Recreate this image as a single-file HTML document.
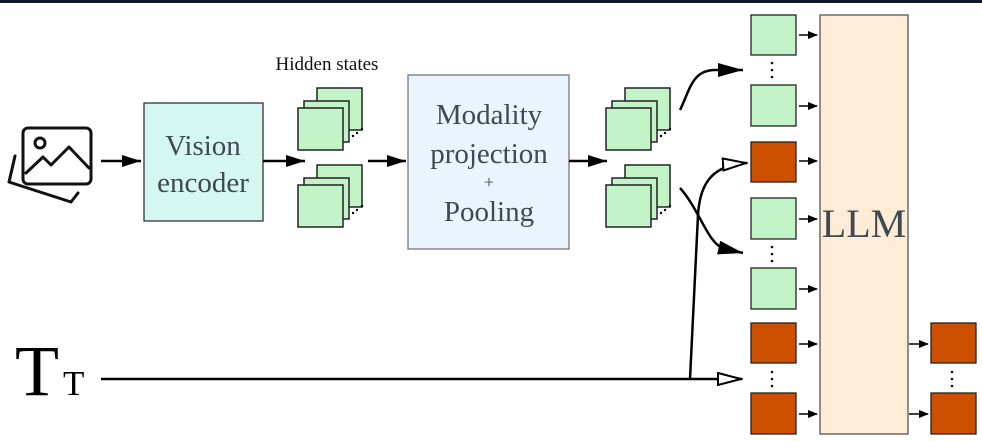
<!DOCTYPE html>
<html><head><meta charset="utf-8"><style>
html,body{margin:0;padding:0;background:#fff;}
svg{display:block;}
</style></head><body>
<svg width="982" height="441" viewBox="0 0 982 441" xmlns="http://www.w3.org/2000/svg" font-family="'Liberation Serif', 'DejaVu Serif', serif">
<defs>
<marker id="a" markerWidth="10" markerHeight="8" refX="9" refY="4" orient="auto" markerUnits="userSpaceOnUse"><path d="M0,0 L10,4 L0,8 Z" fill="#000"/></marker>
<marker id="b" markerWidth="20" markerHeight="12" refX="19" refY="6" orient="auto" markerUnits="userSpaceOnUse"><path d="M0,0 L19,6 L0,12 Z" fill="#000"/></marker>
<marker id="c" markerWidth="26" markerHeight="14" refX="25" refY="7" orient="auto" markerUnits="userSpaceOnUse"><path d="M0,0 L25,7 L0,14 Z" fill="#000"/></marker>
<marker id="h" markerWidth="26" markerHeight="14" refX="25" refY="7" orient="auto" markerUnits="userSpaceOnUse"><path d="M1,1 L24,7 L1,13 Z" fill="#fff" stroke="#000" stroke-width="2"/></marker>
<g id="stk">
<rect x="19" y="0" width="45" height="42" fill="#c2f4c7" stroke="#222" stroke-width="1.5"/>
<rect x="6" y="13" width="45" height="41" fill="#c2f4c7" stroke="#222" stroke-width="1.5"/>
<rect x="0" y="20" width="45" height="42" fill="#c2f4c7" stroke="#222" stroke-width="1.5"/>
<circle cx="55" cy="48" r="1.2" fill="#000"/><circle cx="59" cy="45" r="1.2" fill="#000"/><circle cx="64" cy="41" r="1.2" fill="#000"/>
</g>
</defs>
<rect x="0" y="0" width="982" height="3" fill="#0f1626"/>
<g fill="none" stroke="#111" stroke-width="3" stroke-linecap="round" stroke-linejoin="round">
<rect x="23" y="128" width="68" height="56" rx="5"/>
<circle cx="40" cy="143" r="5"/>
<path d="M26,173 L43,157 L51,165 L69,147 L89,168"/>
<path d="M15,156 L9,182 L71,202 L78,193"/>
</g>
<line x1="101" y1="161" x2="141" y2="161" stroke="#000" stroke-width="2.5" marker-end="url(#b)"/>
<rect x="144" y="103" width="119" height="118" fill="#d5f7f2" stroke="#333" stroke-width="1.3"/>
<text x="203" y="155" font-size="29" fill="#3e4a52" text-anchor="middle" font-family="'Liberation Serif', serif">Vision</text>
<text x="203" y="192" font-size="29" fill="#3e4a52" text-anchor="middle" font-family="'Liberation Serif', serif">encoder</text>
<line x1="263" y1="161" x2="305" y2="161" stroke="#000" stroke-width="2.5" marker-end="url(#b)"/>
<text x="327" y="70" font-size="19" fill="#111" text-anchor="middle" font-family="'Liberation Serif', serif">Hidden states</text>
<use href="#stk" x="298" y="88"/>
<use href="#stk" x="298" y="165"/>
<line x1="368" y1="161" x2="406" y2="161" stroke="#000" stroke-width="2.5" marker-end="url(#b)"/>
<rect x="408" y="75" width="161" height="174" fill="#eaf3fe" stroke="#777" stroke-width="1.3"/>
<text x="489" y="124" font-size="29" fill="#3e4a52" text-anchor="middle" font-family="'Liberation Serif', serif">Modality</text>
<text x="489" y="163" font-size="29" fill="#3e4a52" text-anchor="middle" font-family="'Liberation Serif', serif">projection</text>
<text x="489" y="188" font-size="18" fill="#3e4a52" text-anchor="middle" font-family="'Liberation Serif', serif">+</text>
<text x="489" y="221" font-size="29" fill="#3e4a52" text-anchor="middle" font-family="'Liberation Serif', serif">Pooling</text>
<line x1="569" y1="161" x2="607" y2="161" stroke="#000" stroke-width="2.5" marker-end="url(#b)"/>
<use href="#stk" x="606" y="88"/>
<use href="#stk" x="606" y="165"/>
<path d="M680,110 C690,90 692,70 715,70 L743,70" fill="none" stroke="#000" stroke-width="2.5" marker-end="url(#c)"/>
<path d="M680,188 C700,210 708,245 725,249 L743,253" fill="none" stroke="#000" stroke-width="2.5" marker-end="url(#c)"/>
<path d="M690,379 L698,215 C700,180 715,165 747,163" fill="none" stroke="#000" stroke-width="2.5" marker-end="url(#h)"/>
<line x1="101" y1="379" x2="742" y2="379" stroke="#000" stroke-width="2.5" marker-end="url(#h)"/>
<text x="15" y="395" font-size="72" fill="#000" font-family="'Liberation Serif', serif">T</text>
<text x="63" y="395" font-size="35" fill="#000" font-family="'Liberation Serif', serif">T</text>
<g stroke="#222" stroke-width="1.3">
<rect x="751" y="15" width="45" height="40" fill="#c2f4c7"/>
<rect x="751" y="85" width="45" height="41" fill="#c2f4c7"/>
<rect x="751" y="142" width="45" height="40" fill="#cc5000"/>
<rect x="751" y="198" width="45" height="41" fill="#c2f4c7"/>
<rect x="751" y="268" width="45" height="41" fill="#c2f4c7"/>
<rect x="751" y="323" width="45" height="40" fill="#cc5000"/>
<rect x="751" y="393" width="45" height="41" fill="#cc5000"/>
<rect x="931" y="323" width="45" height="40" fill="#cc5000"/>
<rect x="931" y="393" width="45" height="41" fill="#cc5000"/>
</g>
<g fill="#111">
<circle cx="772" cy="63" r="1.3"/><circle cx="772" cy="70" r="1.3"/><circle cx="772" cy="77" r="1.3"/>
<circle cx="772" cy="247" r="1.3"/><circle cx="772" cy="254" r="1.3"/><circle cx="772" cy="261" r="1.3"/>
<circle cx="772" cy="372" r="1.3"/><circle cx="772" cy="379" r="1.3"/><circle cx="772" cy="386" r="1.3"/>
<circle cx="952" cy="372" r="1.3"/><circle cx="952" cy="379" r="1.3"/><circle cx="952" cy="386" r="1.3"/>
</g>
<g stroke="#000" stroke-width="1.5" marker-end="url(#a)">
<line x1="799" y1="35" x2="817" y2="35"/>
<line x1="799" y1="106" x2="817" y2="106"/>
<line x1="799" y1="161" x2="817" y2="161"/>
<line x1="799" y1="219" x2="817" y2="219"/>
<line x1="799" y1="289" x2="817" y2="289"/>
<line x1="799" y1="344" x2="817" y2="344"/>
<line x1="799" y1="414" x2="817" y2="414"/>
<line x1="909" y1="344" x2="928" y2="344"/>
<line x1="909" y1="414" x2="928" y2="414"/>
</g>
<rect x="820" y="15" width="88" height="419" fill="#feecd6" stroke="#555" stroke-width="1.3"/>
<text x="864" y="237" font-size="40" fill="#3e4a52" text-anchor="middle" font-family="'Liberation Serif', serif">LLM</text>
</svg>
</body></html>
